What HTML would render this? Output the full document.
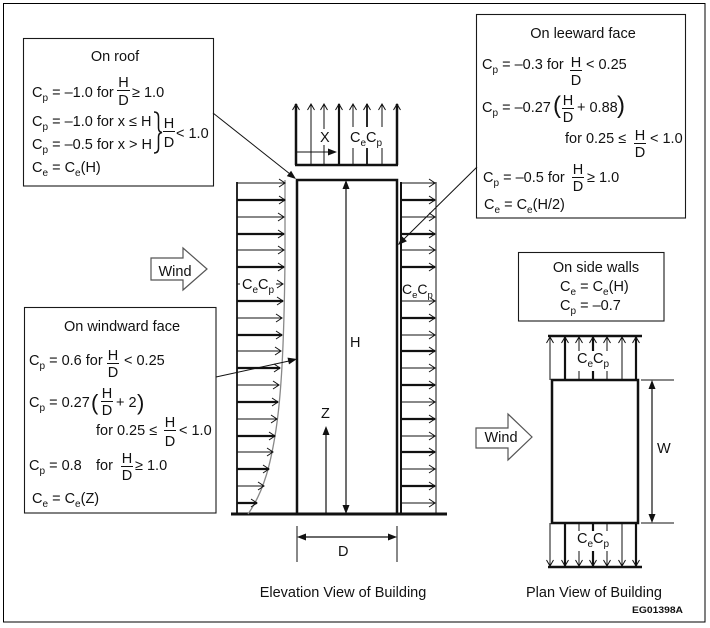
<!DOCTYPE html>
<html><head><meta charset="utf-8">
<style>
html,body{margin:0;padding:0;background:#fff;}
svg{display:block;}
text{font-family:"Liberation Sans",Arial,sans-serif;font-size:14.5px;fill:#111;}
</style></head><body>
<svg width="710" height="628" viewBox="0 0 710 628" xmlns="http://www.w3.org/2000/svg">
<rect x="0" y="0" width="710" height="628" fill="#fff"/>
<rect x="3.5" y="3.5" width="701.5" height="618.5" fill="none" stroke="#000" stroke-width="1"/>

<!-- ===== Boxes ===== -->
<g fill="none" stroke="#1a1a1a" stroke-width="1.1">
  <rect x="23.5" y="38.5" width="190" height="147.5"/>
  <rect x="476.5" y="14.5" width="209" height="203.5"/>
  <rect x="24.5" y="307.5" width="191.5" height="205.5"/>
  <rect x="518.5" y="252.5" width="145.5" height="68.5"/>
</g>

<!-- ===== Roof box text ===== -->
<text x="115" y="61" text-anchor="middle">On roof</text>
<text x="32" y="97">C<tspan font-size="10" dy="4">p</tspan><tspan dy="-4"> = –1.0 for</tspan></text>
<text x="123.5" y="87" text-anchor="middle">H</text>
<line x1="117" y1="90.5" x2="130" y2="90.5" stroke="#111" stroke-width="1"/>
<text x="123.5" y="105" text-anchor="middle">D</text>
<text x="132" y="97">≥ 1.0</text>
<text x="32" y="126">C<tspan font-size="10" dy="4">p</tspan><tspan dy="-4"> = –1.0 for x ≤ H</tspan></text>
<text x="32" y="149">C<tspan font-size="10" dy="4">p</tspan><tspan dy="-4"> = –0.5 for x &gt; H</tspan></text>
<path d="M154,112 Q158.5,112 158.5,117 L158.5,128 Q158.5,132 162,132.5 Q158.5,133 158.5,137 L158.5,148 Q158.5,153 154,153" fill="none" stroke="#111" stroke-width="1.5"/>
<text x="169" y="128" text-anchor="middle">H</text>
<line x1="163" y1="131.5" x2="175" y2="131.5" stroke="#111" stroke-width="1"/>
<text x="169" y="147" text-anchor="middle">D</text>
<text x="176" y="138">&lt; 1.0</text>
<text x="32" y="172">C<tspan font-size="10" dy="4">e</tspan><tspan dy="-4"> = C</tspan><tspan font-size="10" dy="4">e</tspan><tspan dy="-4">(H)</tspan></text>

<!-- ===== Leeward box text ===== -->
<text x="583" y="38" text-anchor="middle">On leeward face</text>
<text x="482" y="69">C<tspan font-size="10" dy="4">p</tspan><tspan dy="-4"> = –0.3 for</tspan></text>
<text x="576" y="67" text-anchor="middle">H</text>
<line x1="570" y1="70.5" x2="582" y2="70.5" stroke="#111" stroke-width="1"/>
<text x="576" y="85" text-anchor="middle">D</text>
<text x="586" y="69">&lt; 0.25</text>

<text x="482" y="112">C<tspan font-size="10" dy="4">p</tspan><tspan dy="-4"> = –0.27</tspan></text>
<text x="553" y="113" style="font-size:24px">(</text>
<text x="568" y="105" text-anchor="middle">H</text>
<line x1="562" y1="108.5" x2="574" y2="108.5" stroke="#111" stroke-width="1"/>
<text x="568" y="122" text-anchor="middle">D</text>
<text x="577" y="112">+ 0.88</text>
<text x="617" y="113" style="font-size:24px">)</text>

<text x="565" y="143">for 0.25 ≤</text>
<text x="640" y="140" text-anchor="middle">H</text>
<line x1="634" y1="143.5" x2="646" y2="143.5" stroke="#111" stroke-width="1"/>
<text x="640" y="157" text-anchor="middle">D</text>
<text x="650" y="143">&lt; 1.0</text>

<text x="483" y="182">C<tspan font-size="10" dy="4">p</tspan><tspan dy="-4"> = –0.5 for</tspan></text>
<text x="578" y="174" text-anchor="middle">H</text>
<line x1="572" y1="177.5" x2="584" y2="177.5" stroke="#111" stroke-width="1"/>
<text x="578" y="191" text-anchor="middle">D</text>
<text x="587" y="182">≥ 1.0</text>
<text x="484" y="209">C<tspan font-size="10" dy="4">e</tspan><tspan dy="-4"> = C</tspan><tspan font-size="10" dy="4">e</tspan><tspan dy="-4">(H/2)</tspan></text>

<!-- ===== Windward box text ===== -->
<text x="122" y="331" text-anchor="middle">On windward face</text>
<text x="29" y="365">C<tspan font-size="10" dy="4">p</tspan><tspan dy="-4"> = 0.6 for</tspan></text>
<text x="113" y="360" text-anchor="middle">H</text>
<line x1="107" y1="363.5" x2="119" y2="363.5" stroke="#111" stroke-width="1"/>
<text x="113" y="377" text-anchor="middle">D</text>
<text x="124" y="365">&lt; 0.25</text>

<text x="29" y="407">C<tspan font-size="10" dy="4">p</tspan><tspan dy="-4"> = 0.27</tspan></text>
<text x="91" y="410" style="font-size:22px">(</text>
<text x="107" y="398" text-anchor="middle">H</text>
<line x1="101" y1="401.5" x2="113" y2="401.5" stroke="#111" stroke-width="1"/>
<text x="107" y="415" text-anchor="middle">D</text>
<text x="116" y="407">+ 2</text>
<text x="137" y="410" style="font-size:22px">)</text>

<text x="96" y="435">for 0.25 ≤</text>
<text x="170" y="427" text-anchor="middle">H</text>
<line x1="164" y1="430.5" x2="176" y2="430.5" stroke="#111" stroke-width="1"/>
<text x="170" y="446" text-anchor="middle">D</text>
<text x="179" y="435">&lt; 1.0</text>

<text x="29" y="470">C<tspan font-size="10" dy="4">p</tspan><tspan dy="-4"> = 0.8</tspan></text>
<text x="96" y="470">for</text>
<text x="127" y="463" text-anchor="middle">H</text>
<line x1="121" y1="466.5" x2="133" y2="466.5" stroke="#111" stroke-width="1"/>
<text x="127" y="480" text-anchor="middle">D</text>
<text x="135" y="470">≥ 1.0</text>
<text x="32" y="503">C<tspan font-size="10" dy="4">e</tspan><tspan dy="-4"> = C</tspan><tspan font-size="10" dy="4">e</tspan><tspan dy="-4">(Z)</tspan></text>

<!-- ===== Side walls text ===== -->
<text x="596" y="272" text-anchor="middle">On side walls</text>
<text x="560" y="291">C<tspan font-size="10" dy="4">e</tspan><tspan dy="-4"> = C</tspan><tspan font-size="10" dy="4">e</tspan><tspan dy="-4">(H)</tspan></text>
<text x="560" y="310">C<tspan font-size="10" dy="4">p</tspan><tspan dy="-4"> = –0.7</tspan></text>

<!-- ===== Wind arrows ===== -->
<polygon points="151,258 183,258 183,248 207,269 183,290 183,280 151,280" fill="#fff" stroke="#555" stroke-width="1.2"/>
<text x="175" y="276" text-anchor="middle">Wind</text>
<polygon points="476,428 508,428 508,414 532,437 508,460 508,448 476,448" fill="#fff" stroke="#555" stroke-width="1.2"/>
<text x="501" y="442" text-anchor="middle">Wind</text>

<!-- ===== Roof pressure diagram ===== -->
<g stroke="#111" fill="none">
  <line x1="296" y1="104" x2="296" y2="165" stroke-width="2.5"/>
  <line x1="311" y1="104" x2="311" y2="165" stroke-width="1"/>
  <line x1="324" y1="104" x2="324" y2="165" stroke-width="1"/>
  <line x1="339" y1="104" x2="339" y2="165" stroke-width="2.2"/>
  <line x1="353" y1="104" x2="353" y2="165" stroke-width="1"/>
  <line x1="367" y1="104" x2="367" y2="165" stroke-width="1.8"/>
  <line x1="382" y1="104" x2="382" y2="165" stroke-width="1"/>
  <line x1="397" y1="104" x2="397" y2="165" stroke-width="2.5"/>
  <line x1="295" y1="165" x2="398" y2="165" stroke-width="2.5"/>
  <g stroke-width="1">
    <polyline points="292.5,110 296,104 299.5,110"/>
    <polyline points="307.5,110 311,104 314.5,110"/>
    <polyline points="320.5,110 324,104 327.5,110"/>
    <polyline points="335.5,110 339,104 342.5,110"/>
    <polyline points="349.5,110 353,104 356.5,110"/>
    <polyline points="363.5,110 367,104 370.5,110"/>
    <polyline points="378.5,110 382,104 385.5,110"/>
    <polyline points="393.5,110 397,104 400.5,110"/>
  </g>
</g>
<rect x="318" y="129" width="13" height="16" fill="#fff"/>
<rect x="347" y="127" width="40" height="21" fill="#fff"/>
<text x="320" y="142">X</text>
<text x="350" y="142">C<tspan font-size="10" dy="4">e</tspan><tspan dy="-4">C</tspan><tspan font-size="10" dy="4">p</tspan></text>
<line x1="296" y1="152" x2="330" y2="152" stroke="#111" stroke-width="1"/>
<polygon points="337,152 328,148.5 328,155.5" fill="#111"/>

<!-- ===== Building elevation ===== -->
<rect x="297" y="180" width="100" height="334" fill="none" stroke="#111" stroke-width="2.5"/>
<line x1="231" y1="514" x2="447" y2="514" stroke="#111" stroke-width="3"/>

<!-- windward left pressure -->
<path d="M285,180 L285,260 C284,350 281,400 275,436 C271,460 265,490 248,514" fill="none" stroke="#888" stroke-width="1.3"/>
<line x1="237" y1="182" x2="237" y2="514" stroke="#111" stroke-width="1.8"/>
<g stroke="#111" fill="none">
  <line x1="237" y1="183" x2="285" y2="183" stroke-width="1"/>
  <line x1="237" y1="200" x2="285" y2="200" stroke-width="2.2"/>
  <line x1="237" y1="217" x2="284" y2="217" stroke-width="1"/>
  <line x1="237" y1="234" x2="284" y2="234" stroke-width="2.2"/>
  <line x1="237" y1="250" x2="284" y2="250" stroke-width="1"/>
  <line x1="237" y1="267" x2="284" y2="267" stroke-width="2.2"/>
  <line x1="237" y1="284" x2="283" y2="284" stroke-width="1"/>
  <line x1="237" y1="301" x2="283" y2="301" stroke-width="2.2"/>
  <line x1="237" y1="318" x2="282" y2="318" stroke-width="1"/>
  <line x1="237" y1="335" x2="282" y2="335" stroke-width="2.2"/>
  <line x1="237" y1="351" x2="281" y2="351" stroke-width="1"/>
  <line x1="237" y1="368" x2="280" y2="368" stroke-width="2.2"/>
  <line x1="237" y1="385" x2="279" y2="385" stroke-width="1"/>
  <line x1="237" y1="402" x2="278" y2="402" stroke-width="2.2"/>
  <line x1="237" y1="419" x2="277" y2="419" stroke-width="1"/>
  <line x1="237" y1="436" x2="275" y2="436" stroke-width="2.2"/>
  <line x1="237" y1="452" x2="273" y2="452" stroke-width="1"/>
  <line x1="237" y1="469" x2="269" y2="469" stroke-width="2.2"/>
  <line x1="237" y1="486" x2="264" y2="486" stroke-width="1"/>
  <line x1="237" y1="503" x2="257" y2="503" stroke-width="2.2"/>
  <g stroke-width="1">
    <polyline points="279,179 285,183 279,187"/>
    <polyline points="279,196 285,200 279,204"/>
    <polyline points="278,213 284,217 278,221"/>
    <polyline points="278,230 284,234 278,238"/>
    <polyline points="278,246 284,250 278,254"/>
    <polyline points="278,263 284,267 278,271"/>
    <polyline points="277,280 283,284 277,288"/>
    <polyline points="277,297 283,301 277,305"/>
    <polyline points="276,314 282,318 276,322"/>
    <polyline points="276,331 282,335 276,339"/>
    <polyline points="275,347 281,351 275,355"/>
    <polyline points="274,364 280,368 274,372"/>
    <polyline points="273,381 279,385 273,389"/>
    <polyline points="272,398 278,402 272,406"/>
    <polyline points="271,415 277,419 271,423"/>
    <polyline points="269,432 275,436 269,440"/>
    <polyline points="267,448 273,452 267,456"/>
    <polyline points="263,465 269,469 263,473"/>
    <polyline points="258,482 264,486 258,490"/>
    <polyline points="251,499 257,503 251,507"/>
  </g>
</g>
<rect x="240" y="276" width="36" height="19" fill="#fff"/>
<text x="242" y="289">C<tspan font-size="10" dy="4">e</tspan><tspan dy="-4">C</tspan><tspan font-size="10" dy="4">p</tspan></text>

<!-- leeward right pressure -->
<g stroke="#111" fill="none">
  <line x1="401" y1="182" x2="401" y2="514" stroke-width="2"/>
  <line x1="436" y1="182" x2="436" y2="514" stroke-width="1"/>
  <line x1="401" y1="183" x2="435" y2="183" stroke-width="1"/>
  <line x1="401" y1="200" x2="435" y2="200" stroke-width="2.2"/>
  <line x1="401" y1="217" x2="435" y2="217" stroke-width="1"/>
  <line x1="401" y1="234" x2="435" y2="234" stroke-width="2.2"/>
  <line x1="401" y1="250" x2="435" y2="250" stroke-width="1"/>
  <line x1="401" y1="267" x2="435" y2="267" stroke-width="2.2"/>
  <line x1="401" y1="301" x2="435" y2="301" stroke-width="1"/>
  <line x1="401" y1="318" x2="435" y2="318" stroke-width="2.2"/>
  <line x1="401" y1="335" x2="435" y2="335" stroke-width="1"/>
  <line x1="401" y1="351" x2="435" y2="351" stroke-width="2.2"/>
  <line x1="401" y1="368" x2="435" y2="368" stroke-width="1"/>
  <line x1="401" y1="385" x2="435" y2="385" stroke-width="2.2"/>
  <line x1="401" y1="402" x2="435" y2="402" stroke-width="1"/>
  <line x1="401" y1="419" x2="435" y2="419" stroke-width="2.2"/>
  <line x1="401" y1="436" x2="435" y2="436" stroke-width="1"/>
  <line x1="401" y1="452" x2="435" y2="452" stroke-width="2.2"/>
  <line x1="401" y1="469" x2="435" y2="469" stroke-width="1"/>
  <line x1="401" y1="486" x2="435" y2="486" stroke-width="2.2"/>
  <line x1="401" y1="503" x2="435" y2="503" stroke-width="1"/>
  <g stroke-width="1">
    <polyline points="429,179 435,183 429,187"/>
    <polyline points="429,196 435,200 429,204"/>
    <polyline points="429,213 435,217 429,221"/>
    <polyline points="429,230 435,234 429,238"/>
    <polyline points="429,246 435,250 429,254"/>
    <polyline points="429,263 435,267 429,271"/>
    <polyline points="429,297 435,301 429,305"/>
    <polyline points="429,314 435,318 429,322"/>
    <polyline points="429,331 435,335 429,339"/>
    <polyline points="429,347 435,351 429,355"/>
    <polyline points="429,364 435,368 429,372"/>
    <polyline points="429,381 435,385 429,389"/>
    <polyline points="429,398 435,402 429,406"/>
    <polyline points="429,415 435,419 429,423"/>
    <polyline points="429,432 435,436 429,440"/>
    <polyline points="429,448 435,452 429,456"/>
    <polyline points="429,465 435,469 429,473"/>
    <polyline points="429,482 435,486 429,490"/>
    <polyline points="429,499 435,503 429,507"/>
  </g>
</g>
<rect x="402.5" y="280" width="33" height="18" fill="#fff"/>
<text x="402" y="294" style="font-size:14px">C<tspan font-size="9.5" dy="4">e</tspan><tspan dy="-4">C</tspan><tspan font-size="9.5" dy="4">p</tspan></text>

<!-- H dimension -->
<line x1="346" y1="187" x2="346" y2="507" stroke="#111" stroke-width="1.2"/>
<polygon points="346,180 342.5,189 349.5,189" fill="#111"/>
<polygon points="346,514 342.5,505 349.5,505" fill="#111"/>
<text x="350" y="347">H</text>
<!-- Z arrow -->
<line x1="326" y1="433" x2="326" y2="514" stroke="#111" stroke-width="1.2"/>
<polygon points="326,426 322.5,435 329.5,435" fill="#111"/>
<text x="321" y="418">Z</text>
<!-- D dimension -->
<line x1="297" y1="526" x2="297" y2="562" stroke="#111" stroke-width="1"/>
<line x1="397" y1="526" x2="397" y2="562" stroke="#111" stroke-width="1"/>
<line x1="304" y1="537" x2="390" y2="537" stroke="#111" stroke-width="1.2"/>
<polygon points="297,537 306,533.5 306,540.5" fill="#111"/>
<polygon points="397,537 388,533.5 388,540.5" fill="#111"/>
<text x="338" y="556">D</text>

<!-- connectors -->
<g stroke="#111" stroke-width="1">
  <line x1="213" y1="113" x2="290" y2="174"/>
  <line x1="477" y1="167" x2="404" y2="239"/>
  <line x1="216" y1="377" x2="289" y2="361"/>
</g>
<polygon points="296,179 291.1,170.7 286.8,176.1" fill="#111"/>
<polygon points="398,245 401.9,236.2 406.9,241.2" fill="#111"/>
<polygon points="297,359 289,364.4 287.5,357.6" fill="#111"/>

<!-- ===== Plan view ===== -->
<g stroke="#111" fill="none">
  <line x1="548" y1="336" x2="642" y2="336" stroke-width="2.5"/>
  <line x1="548" y1="567" x2="642" y2="567" stroke-width="2.5"/>
  <line x1="550" y1="337" x2="550" y2="380" stroke-width="1"/>
  <line x1="565" y1="337" x2="565" y2="380" stroke-width="2.2"/>
  <line x1="579" y1="337" x2="579" y2="380" stroke-width="1"/>
  <line x1="593" y1="337" x2="593" y2="380" stroke-width="2.2"/>
  <line x1="607" y1="337" x2="607" y2="380" stroke-width="1"/>
  <line x1="622" y1="337" x2="622" y2="380" stroke-width="1"/>
  <line x1="636" y1="337" x2="636" y2="380" stroke-width="2.2"/>
  <line x1="550" y1="523" x2="550" y2="566" stroke-width="1"/>
  <line x1="565" y1="523" x2="565" y2="566" stroke-width="2.2"/>
  <line x1="579" y1="523" x2="579" y2="566" stroke-width="1"/>
  <line x1="593" y1="523" x2="593" y2="566" stroke-width="2.2"/>
  <line x1="607" y1="523" x2="607" y2="566" stroke-width="1"/>
  <line x1="622" y1="523" x2="622" y2="566" stroke-width="1"/>
  <line x1="636" y1="523" x2="636" y2="566" stroke-width="2.2"/>
  <g stroke-width="1">
    <polyline points="546.5,343 550,337 553.5,343"/>
    <polyline points="561.5,343 565,337 568.5,343"/>
    <polyline points="575.5,343 579,337 582.5,343"/>
    <polyline points="589.5,343 593,337 596.5,343"/>
    <polyline points="603.5,343 607,337 610.5,343"/>
    <polyline points="618.5,343 622,337 625.5,343"/>
    <polyline points="632.5,343 636,337 639.5,343"/>
    <polyline points="546.5,560 550,566 553.5,560"/>
    <polyline points="561.5,560 565,566 568.5,560"/>
    <polyline points="575.5,560 579,566 582.5,560"/>
    <polyline points="589.5,560 593,566 596.5,560"/>
    <polyline points="603.5,560 607,566 610.5,560"/>
    <polyline points="618.5,560 622,566 625.5,560"/>
    <polyline points="632.5,560 636,566 639.5,560"/>
  </g>
  <rect x="552" y="380" width="86" height="143" stroke-width="2.5" fill="#fff"/>
</g>
<rect x="575" y="351" width="39" height="20" fill="#fff"/>
<rect x="575" y="531" width="39" height="20" fill="#fff"/>
<text x="577" y="363">C<tspan font-size="10" dy="4">e</tspan><tspan dy="-4">C</tspan><tspan font-size="10" dy="4">p</tspan></text>
<text x="577" y="543">C<tspan font-size="10" dy="4">e</tspan><tspan dy="-4">C</tspan><tspan font-size="10" dy="4">p</tspan></text>

<!-- W dimension -->
<line x1="641" y1="380" x2="674" y2="380" stroke="#111" stroke-width="1"/>
<line x1="641" y1="523" x2="674" y2="523" stroke="#111" stroke-width="1"/>
<line x1="652" y1="387" x2="652" y2="516" stroke="#111" stroke-width="1.2"/>
<polygon points="652,380 648.5,389 655.5,389" fill="#111"/>
<polygon points="652,523 648.5,514 655.5,514" fill="#111"/>
<text x="657" y="453">W</text>

<!-- captions -->
<text x="343" y="597" text-anchor="middle">Elevation View of Building</text>
<text x="594" y="597" text-anchor="middle">Plan View of Building</text>
<text x="632" y="613" style="font-size:9.5px;font-weight:bold" textLength="51" lengthAdjust="spacingAndGlyphs">EG01398A</text>
</svg>
</body></html>
